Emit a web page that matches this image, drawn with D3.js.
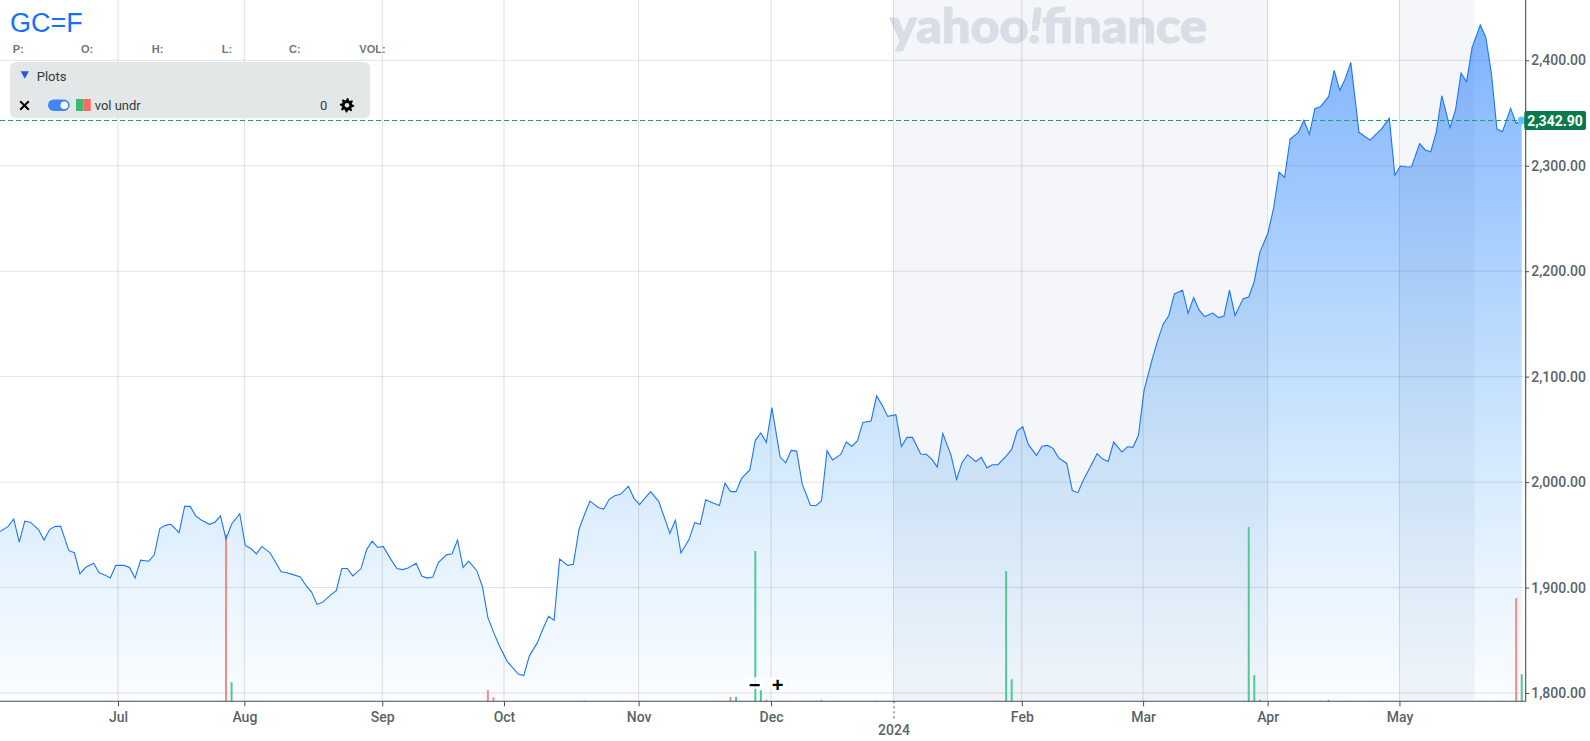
<!DOCTYPE html>
<html>
<head>
<meta charset="utf-8">
<script src="https://cdn.jsdelivr.net/npm/d3@7"></script>
<style>
  html, body { margin: 0; padding: 0; background: #fff; overflow: hidden; }
  svg { display: block; }
  text { font-family: "Liberation Sans", sans-serif; }
  .ax text { font-family: Roboto, sans-serif; font-weight: 500; font-size: 14px; fill: #5b636a; }
  .head { font-size: 11px; font-weight: 700; fill: #70777d; }
  .panel { font-family: Roboto, sans-serif; font-size: 13px; fill: #333a40; }
</style>
</head>
<body>
<script>
const symbol = 'GC=F';
const first_day = '2023-06-02', last_day = '2024-05-30';
const holidays = ['2023-06-19', '2023-07-04', '2023-09-04', '2023-12-25', '2024-01-01', '2024-01-15', '2024-02-19', '2024-03-29', '2024-05-27'];

// one row per trading week
const closes = [
    1953,
    1958, 1965, 1943, 1963, 1962,
    1955, 1945, 1955, 1958, 1958,
    1935, 1933, 1913, 1919,
    1923, 1914, 1912, 1909, 1921,
    1921, 1919, 1909, 1926,
    1925, 1931, 1956, 1959, 1960,
    1952, 1977, 1977, 1968, 1964,
    1960, 1962, 1968, 1946, 1960,
    1970, 1940, 1937, 1932, 1939,
    1933, 1924, 1915, 1914, 1912.5,
    1910, 1902, 1896, 1884, 1886,
    1893, 1897, 1918, 1918, 1911,
    1918, 1936, 1944, 1938, 1939,
    1926, 1918, 1917, 1918.5,
    1923, 1911, 1909, 1910, 1923.6,
    1931, 1932, 1945, 1919, 1925,
    1916, 1901, 1871.5, 1858, 1845.5,
    1830, 1824, 1818, 1816.5, 1835,
    1848, 1861, 1872.7, 1869, 1927,
    1921, 1922, 1955, 1969, 1982,
    1976, 1974.5, 1983.7, 1987, 1988.4,
    1996, 1984.6, 1978.6, 1985, 1991,
    1981.5, 1966.6, 1951.4, 1963.8, 1932.8,
    1945.7, 1961.5, 1960, 1983.3, 1981,
    1977.7, 1999, 1991, 1991, 2003.6,
    2011.5, 2039.6, 2046.6, 2037.7, 2070.6,
    2024, 2018.3, 2030, 2029.4, 1998,
    1978, 1977.6, 1982.3, 2029.7, 2020.9,
    2026.2, 2038, 2034, 2039, 2056.6,
    2058, 2081.6, 2073, 2062.3,
    2064, 2033.8, 2042.4, 2042.4,
    2026.6, 2026.3, 2021.8, 2014.2, 2046,
    2025.6, 2002.5, 2018.7, 2026,
    2019.6, 2023.4, 2013.6, 2016.5, 2016.5,
    2024.7, 2031, 2048.4, 2052.5, 2035.7,
    2025.3, 2034, 2034.8, 2032, 2023,
    2017.7, 1992, 1990, 2002, 2012,
    2027, 2021.8, 2019.6, 2038,
    2028.5, 2033.5, 2033, 2044.6, 2087,
    2116.7, 2134.7, 2150, 2158, 2178.4,
    2182, 2160, 2175, 2163, 2157,
    2160.3, 2156, 2157.5, 2182, 2158,
    2174, 2175.5, 2190.4, 2217.9,
    2236.5, 2259.6, 2294, 2289, 2325.4,
    2331.7, 2343, 2329.8, 2354.4, 2356,
    2365.5, 2390.5, 2371.5, 2382.6, 2398,
    2331.7, 2328, 2324.4, 2329.5, 2334.5,
    2345, 2291, 2299.7, 2299, 2298.8,
    2321, 2315, 2313.3, 2331.7, 2366.4,
    2336, 2352.9, 2388, 2379.7, 2412.3,
    2433.5, 2421.8, 2387.6, 2334.8, 2332.3,
    2354.4, 2340.2, 2342.9
];

const vol_days = ['2023-07-27', '2023-07-28', '2023-09-27', '2023-09-28', '2023-10-19', '2023-11-22', '2023-11-23', '2023-11-28', '2023-11-29', '2023-11-30', '2023-12-05', '2023-12-12', '2023-12-13', '2023-12-27', '2024-01-29', '2024-01-30', '2024-03-26', '2024-03-27', '2024-03-28', '2024-04-12', '2024-04-15', '2024-04-25', '2024-04-26', '2024-05-29', '2024-05-30'];
const vol_values = [250000, 28500, 16500, 6000, 1000, 6700, 6700, 225000, 16500, 2200, 700, 700, 2200, 700, 195000, 33000, 261000, 39000, 2200, 700, 2200, 700, 700, 154500, 40500];
const vol_up = [false, true, false, false, true, false, true, true, true, false, false, false, true, true, true, true, true, true, true, true, true, true, true, false, true];

const price_ticks = [1800, 1900, 2000, 2100, 2200, 2300, 2400];
const month_ticks = ['2023-07-01', '2023-08-01', '2023-09-01', '2023-10-01', '2023-11-01', '2023-12-01', '2024-01-01', '2024-02-01', '2024-03-01', '2024-04-01', '2024-05-01'];
const shaded = [['2024-01-01', '2024-04-01'], ['2024-05-01', '2024-05-18']];
const open_heads = ['P:', 'O:', 'H:', 'L:', 'C:', 'VOL:'];
const head_xs = [12.7, 81, 151.7, 221.7, 289, 359.3];

const w = 1590, h = 741;
const axisX = 1525.7, axisY = 701.3, lastX = 1521.7;
const weekendGap = 0.48;

const day = s => new Date(s + 'T00:00:00Z');
const session = s => new Date(s + 'T04:00:00Z');

// weekdays minus holidays; the weekend only takes a short slot on the x axis
const days = d3.utcDay.range(day(first_day), d3.utcDay.offset(day(last_day), 1))
    .filter(d => d.getUTCDay() % 6 !== 0)
    .map(d => d.toISOString().slice(0, 10))
    .filter(s => !holidays.includes(s));
if (days.length !== closes.length) console.error('closes/days mismatch', days.length, closes.length);

let slot = -1;
const slots = days.map((s, i) => {
    slot += 1;
    if (i > 0 && day(s).getUTCDay() <= day(days[i - 1]).getUTCDay()) slot += weekendGap;
    return slot;
});
const slot_x = d3.scaleLinear().domain([0, slot]).range([0, lastX]);
const x = d3.scaleUtc().domain(days.map(session)).range(slots.map(slot_x));
const y = d3.scaleLinear().domain([1800, 2400]).range([693, 60.3]);
const vol_y = d3.scaleLinear().domain([0, 261000]).range([axisY, 527]);

const series = days.map((s, i) => ({ date: session(s), close: closes[i] }));

const svg = d3.select('body').append('svg').attr('width', w).attr('height', h);

const grad = svg.append('defs').append('linearGradient')
    .attr('id', 'fill').attr('gradientUnits', 'userSpaceOnUse')
    .attr('x1', 0).attr('x2', 0).attr('y1', 25).attr('y2', axisY);
[[0, '#7fb2ff'], [0.42, '#b6d8fd'], [0.63, '#d2e8fd'], [0.8, '#e6f3fe'], [1, '#fbfdff']]
    .forEach(([o, c]) => grad.append('stop').attr('offset', o).attr('stop-color', c));

svg.append('path')
    .datum(series)
    .attr('fill', 'url(#fill)')
    .attr('d', d3.area().x(d => x(d.date)).y0(axisY).y1(d => y(d.close)));

// quarter bands sit above the fill, they darken it a bit
svg.append('g').selectAll('rect')
    .data(shaded)
    .join('rect')
    .attr('x', d => x(day(d[0])))
    .attr('width', d => x(day(d[1])) - x(day(d[0])))
    .attr('y', 0)
    .attr('height', axisY)
    .attr('fill', 'rgb(30,70,130)')
    .attr('fill-opacity', 0.05);

// watermark
const mark = svg.append('text')
    .attr('x', 890).attr('y', 43)
    .attr('textLength', 317).attr('lengthAdjust', 'spacingAndGlyphs')
    .attr('fill', '#d8dee6').attr('stroke', '#d8dee6').attr('stroke-width', 1.2)
    .style('font-family', 'Lato, sans-serif').style('font-weight', 900).style('font-size', '48px');
mark.append('tspan').text('yahoo');
mark.append('tspan').style('font-style', 'italic').text('!');
mark.append('tspan').text('finance');

svg.append('g').selectAll('line')
    .data(price_ticks)
    .join('line')
    .attr('x1', 0).attr('x2', axisX)
    .attr('y1', d => y(d)).attr('y2', d => y(d))
    .attr('stroke', 'rgb(60,70,90)').attr('stroke-opacity', 0.15);

svg.append('g').selectAll('line')
    .data(month_ticks)
    .join('line')
    .attr('x1', d => x(day(d))).attr('x2', d => x(day(d)))
    .attr('y1', 0).attr('y2', axisY)
    .attr('stroke', 'rgb(60,70,90)').attr('stroke-opacity', 0.17);

svg.append('g').selectAll('rect')
    .data(vol_days.map((s, i) => ({ date: session(s), vol: vol_values[i], up: vol_up[i] })))
    .join('rect')
    .attr('x', d => x(d.date) - 1)
    .attr('width', 2)
    .attr('y', d => vol_y(d.vol))
    .attr('height', d => axisY - vol_y(d.vol))
    .attr('fill', d => d.up ? '#4fc99c' : '#f58b83');

svg.append('path')
    .datum(series)
    .attr('fill', 'none')
    .attr('stroke', '#1c76fb')
    .attr('stroke-width', 1.1)
    .attr('stroke-linejoin', 'miter')
    .attr('d', d3.line().x(d => x(d.date)).y(d => y(d.close)));

const last_close = closes[closes.length - 1];
svg.append('line')
    .attr('x1', 0).attr('x2', lastX)
    .attr('y1', y(last_close)).attr('y2', y(last_close))
    .attr('stroke', '#1f9d72').attr('stroke-width', 1).attr('stroke-dasharray', '5,3');
svg.append('circle')
    .attr('cx', lastX).attr('cy', y(last_close)).attr('r', 4)
    .attr('fill', '#62c4fc');

// axes
const x_axis = svg.append('g').attr('class', 'ax')
    .attr('transform', `translate(0, ${axisY})`)
    .call(d3.axisBottom(x)
        .tickValues(month_ticks.map(day))
        .tickFormat(d3.utcFormat('%b'))
        .tickSize(5)
        .tickPadding(6));
x_axis.select('.domain').remove();
x_axis.selectAll('line').attr('stroke', '#464e56');
x_axis.selectAll('.tick')
    .filter(d => d.getUTCMonth() === 0)
    .each(function(d) {
        const t = d3.select(this);
        t.select('text').attr('y', 24).text(d.getUTCFullYear());
        t.select('line').attr('y2', 18).attr('stroke-dasharray', '2,3');
    });

const y_axis = svg.append('g').attr('class', 'ax')
    .attr('transform', `translate(${axisX}, 0)`)
    .call(d3.axisRight(y)
        .tickValues(price_ticks)
        .tickFormat(d3.format(',.2f'))
        .tickSize(3.5)
        .tickPadding(2));
y_axis.select('.domain').remove();
y_axis.selectAll('line').attr('stroke', '#464e56');

svg.append('path')
    .attr('d', `M0,${axisY}H${axisX}V0`)
    .attr('fill', 'none')
    .attr('stroke', '#464e56')
    .attr('stroke-width', 1.1);

// last price badge
svg.append('rect')
    .attr('x', 1524.3).attr('y', y(last_close) - 9.5)
    .attr('width', 61.7).attr('height', 19).attr('rx', 2)
    .attr('fill', '#0a7a4b');
svg.append('text')
    .attr('x', 1555).attr('y', y(last_close) + 5)
    .attr('text-anchor', 'middle')
    .attr('fill', '#fff')
    .style('font-family', 'Roboto, sans-serif').style('font-weight', 700).style('font-size', '14px')
    .text(d3.format(',.2f')(last_close));

// zoom buttons
const zoom_btn = svg.append('g').attr('text-anchor', 'middle').attr('fill', '#000')
    .style('font-size', '20px').style('font-weight', 700);
[[744, 19, '\u2212'], [768, 17, '+']].forEach(([bx, bw, label]) => {
    zoom_btn.append('rect')
        .attr('x', bx).attr('y', 677).attr('width', bw).attr('height', 12)
        .attr('fill', '#fff').attr('fill-opacity', 0.8);
    zoom_btn.append('text').attr('x', bx + bw / 2 + 1).attr('y', 691.5).text(label);
});

// header
svg.append('text')
    .attr('x', 10).attr('y', 32)
    .attr('fill', '#1470ff')
    .style('font-size', '27px')
    .text(symbol);
svg.append('g').selectAll('text')
    .data(open_heads)
    .join('text')
    .attr('class', 'head')
    .attr('x', (d, i) => head_xs[i])
    .attr('y', 53)
    .text(d => d);

// plots panel
const panel = svg.append('g');
panel.append('rect')
    .attr('x', 10).attr('y', 62).attr('width', 360).attr('height', 56.3).attr('rx', 6)
    .attr('fill', 'rgb(222,227,227)').attr('fill-opacity', 0.85);
panel.append('path').attr('d', 'M20.7,71.3H29L24.8,78.7Z').attr('fill', '#1f5fd6');
panel.append('text').attr('class', 'panel').attr('x', 36.7).attr('y', 80.5).text('Plots');
panel.append('path')
    .attr('d', 'M20.2,101.3L28.8,109.7M28.8,101.3L20.2,109.7')
    .attr('stroke', '#000').attr('stroke-width', 2);
panel.append('rect')
    .attr('x', 48).attr('y', 99.5).attr('width', 21.7).attr('height', 11.5).attr('rx', 5.7)
    .attr('fill', '#3f86f7');
panel.append('circle').attr('cx', 64.3).attr('cy', 105.3).attr('r', 3.8).attr('fill', '#fff');
panel.append('rect').attr('x', 76).attr('y', 99).attr('width', 7.4).attr('height', 12).attr('fill', '#3fb871');
panel.append('rect').attr('x', 83.4).attr('y', 99).attr('width', 7.3).attr('height', 12).attr('fill', '#ff6a5c');
panel.append('text').attr('class', 'panel').attr('x', 94.7).attr('y', 109.7).text('vol undr');
panel.append('text').attr('class', 'panel').attr('x', 320).attr('y', 109.7).text('0');

// gear icon
const teeth = d3.range(0, 32).map(i => [(i * Math.PI) / 16, (i % 4 < 2) ? 7.2 : 5.2]);
const gear = panel.append('g').attr('transform', 'translate(347, 105.3)');
gear.append('path')
    .attr('d', d3.lineRadial().curve(d3.curveLinearClosed)(teeth))
    .attr('fill', '#000');
gear.append('circle').attr('r', 2.3).attr('fill', '#e2e6e6');
</script>
</body>
</html>
